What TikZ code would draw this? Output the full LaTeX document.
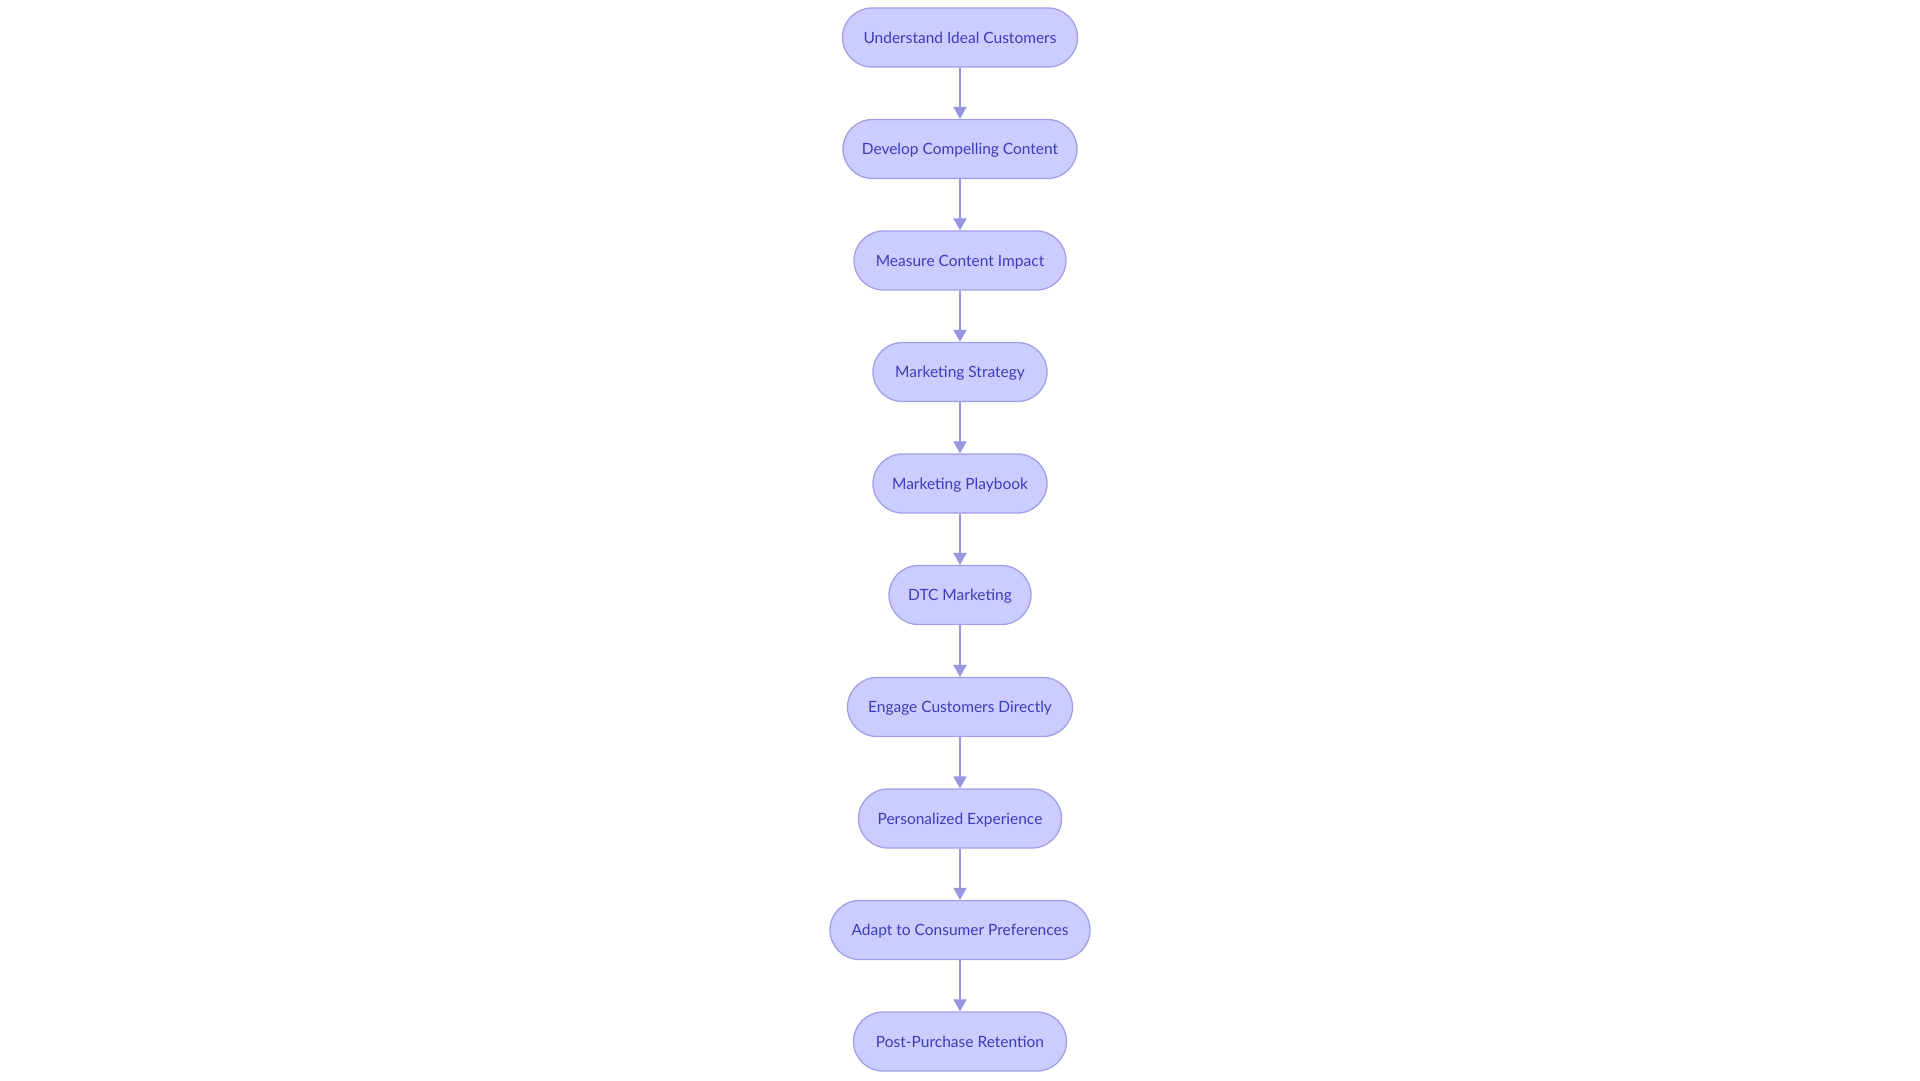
\documentclass[tikz,border=0pt]{standalone}
\usepackage{fontspec}
\setmainfont{Lato}
\usetikzlibrary{arrows.meta}
\definecolor{boxfill}{RGB}{204,204,255}
\definecolor{boxdraw}{RGB}{160,160,230}
\definecolor{boxtext}{RGB}{60,60,185}
\definecolor{arrowc}{RGB}{150,150,225}
\begin{document}
\begin{tikzpicture}[x=1pt,y=-1pt,
  stepbox/.style={draw=boxdraw, line width=1.3pt, fill=boxfill, text=boxtext,
    rounded corners=29.5pt, minimum height=59pt, inner sep=0pt,
    text height=12pt, text depth=0.5pt, font=\fontsize{15.5}{18}\selectfont},
  conn/.style={draw=arrowc, line width=2pt, -{Triangle[length=12pt,width=13pt]}}]
\useasboundingbox (0,0) rectangle (1920,1080);
\node[stepbox, minimum width=235pt] (n1) at (960,37.5) {Understand Ideal Customers};
\node[stepbox, minimum width=234pt] (n2) at (960,149) {Develop Compelling Content};
\node[stepbox, minimum width=212pt] (n3) at (960,260.5) {Measure Content Impact};
\node[stepbox, minimum width=174pt] (n4) at (960,372) {Marketing Strategy};
\node[stepbox, minimum width=174pt] (n5) at (960,483.5) {Marketing Playbook};
\node[stepbox, minimum width=142pt] (n6) at (960,595) {DTC Marketing};
\node[stepbox, minimum width=225pt] (n7) at (960,707) {Engage Customers Directly};
\node[stepbox, minimum width=203pt] (n8) at (960,818.5) {Personalized Experience};
\node[stepbox, minimum width=260pt] (n9) at (960,930) {Adapt to Consumer Preferences};
\node[stepbox, minimum width=213pt] (n10) at (960,1041.5) {Post-Purchase Retention};
\foreach \a/\b in {n1/n2,n2/n3,n3/n4,n4/n5,n5/n6,n6/n7,n7/n8,n8/n9,n9/n10}
  \draw[conn] (\a) -- (\b);
\end{tikzpicture}
\end{document}
